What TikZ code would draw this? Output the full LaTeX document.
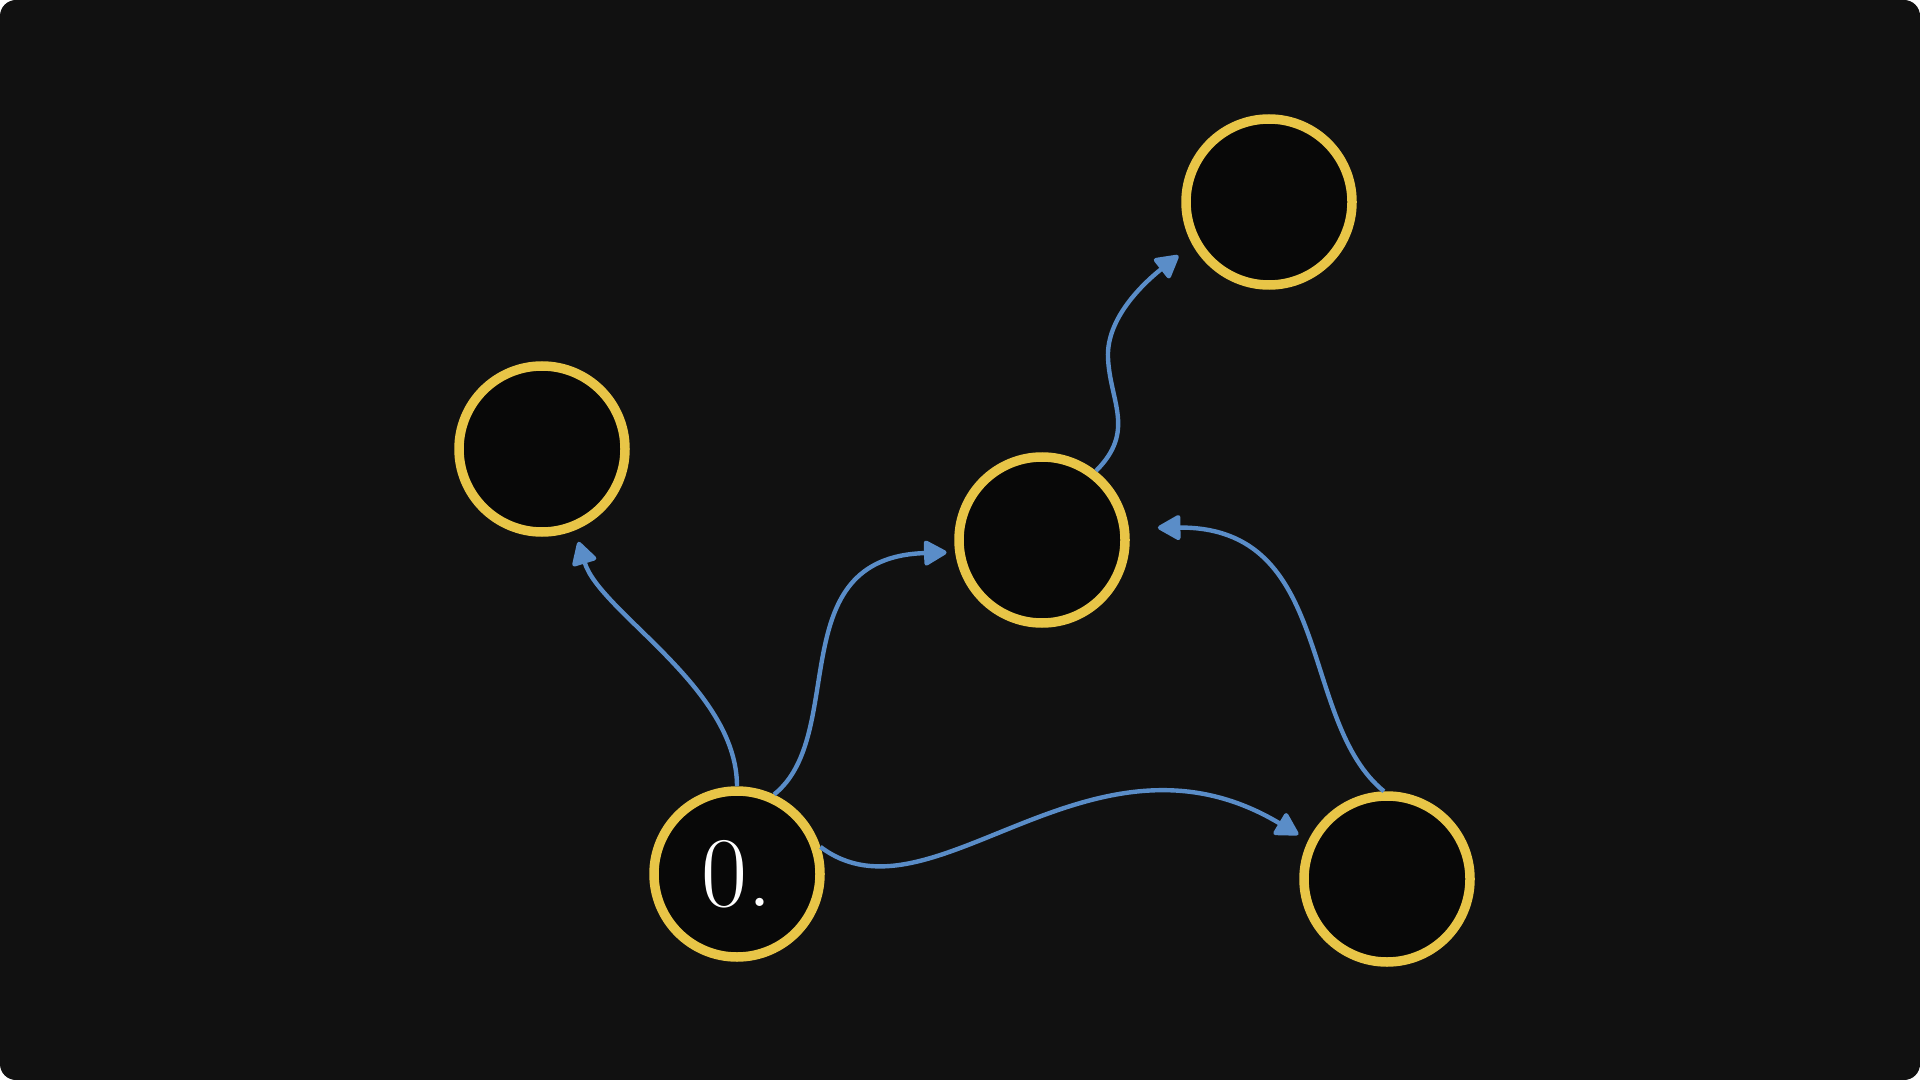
\documentclass[tikz,border=0pt]{standalone}
\usepackage{tikz}
\usetikzlibrary{arrows.meta}
\definecolor{canvas}{HTML}{111111}
\definecolor{nodefill}{HTML}{080808}
\definecolor{ringyellow}{HTML}{E8C547}
\definecolor{edgeblue}{HTML}{5A8DC8}
\tikzset{x=0.5pt, y=-0.5pt,
  graph node/.style={circle, draw=ringyellow, fill=nodefill, line width=4.75pt,
        minimum size=83pt, inner sep=0pt, text=white,
        font=\fontsize{50}{60}\selectfont},
  graph edge/.style={draw=edgeblue, line width=2.2pt,
        -{Triangle[length=12.5pt, width=13.5pt, round]}}
}
\begin{document}
\begin{tikzpicture}
\useasboundingbox (0,0) rectangle (1920,1080);
\fill[white] (0,0) rectangle (1920,1080);
\fill[canvas, rounded corners=8pt] (0,0) rectangle (1920,1080);
% nodes
\node[graph node] (nZero) at (737,874) {0.};
\node[graph node] (nLeft) at (542,449) {};
\node[graph node] (nMid) at (1042,540) {};
\node[graph node] (nTop) at (1269,202) {};
\node[graph node] (nRight) at (1387,879) {};
% edges
\draw[graph edge, shorten >=12pt*0.5] (nZero.north) .. controls +(0,-99) and +(25,82) .. (nLeft.-68);
\draw[graph edge, shorten >=8.5pt*0.5] (nZero.65) .. controls +(75,-60) and +(-175,5) .. (nMid.188);
\draw[graph edge, shorten >=17.7pt*0.5] (nMid.52) .. controls +(40,-40) and +(2,44) .. (1108,358)
  .. controls +(-2,-40) and +(-48,38) .. (nTop.209);
\draw[graph edge, shorten >=29pt*0.5] (nRight.92) .. controls +(-86,-70) and +(206,-1) .. (nMid.8);
\draw[graph edge, shorten >=11.5pt*0.5] (nZero.18) .. controls +(111,84) and +(-218,-131) .. (nRight.154);
\end{tikzpicture}
\end{document}
